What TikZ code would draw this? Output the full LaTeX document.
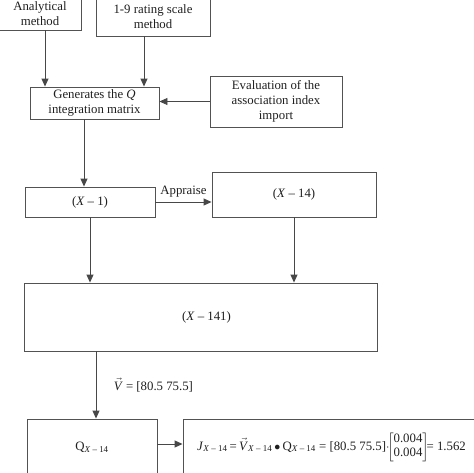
\documentclass[tikz,border=0pt]{standalone}
\usepackage{amsmath}
\usepackage{fontspec}
\setmainfont{Liberation Serif}
\usetikzlibrary{arrows.meta,calc}
\newcommand{\xsub}[1]{\ensuremath{_{\text{\textit{X} – #1}}}}
\begin{document}
\begin{tikzpicture}[x=1pt,y=-1pt,
  every node/.style={font=\fontsize{12.8}{15}\selectfont, text=black!88},
  box/.style={draw=black!68, line width=0.9pt, inner sep=0pt, align=center},
  arr/.style={draw=black!72, line width=0.9pt, -{Triangle[length=8pt,width=7pt]}}]
\useasboundingbox (0,0) rectangle (474,472);
\node[box, minimum width=82pt, minimum height=32pt] (ana) at (40,14) {Analytical\\method};
\node[box, minimum width=114pt, minimum height=38pt] (rat) at (153,17) {1-9 rating scale\\method};
\node[box, minimum width=129pt, minimum height=32pt] (gen) at (94.5,103) {Generates the \textit{Q}\\integration matrix};
\node[box, minimum width=132pt, minimum height=51pt] (eva) at (276,101.5) {Evaluation of the\\association index\\import};
\node[box, minimum width=130pt, minimum height=30pt] (x1) at (90,202) {(\textit{X} – 1)};
\node[box, minimum width=164pt, minimum height=45pt] (x14) at (294,194.5) {(\textit{X} – 14)};
\node[box, minimum width=353pt, minimum height=68pt] (x141) at (200.5,317) {\hspace*{12pt}(\textit{X} – 141)};
\node[box, minimum width=130pt, minimum height=56pt] (q) at (92,447) {Q\xsub{14}};
\node[box, minimum width=297pt, minimum height=56pt] (j) at (331.5,447) {\textit{J}\xsub{14}\,=\,$\vec{\text{\textit{V}}}$\xsub{14}\,$\bullet$\,Q\xsub{14} = [80.5 75.5]$\cdot$\!$\left[\renewcommand{\arraystretch}{0.92}\begin{tabular}{@{}c@{}}0.004\\0.004\end{tabular}\right]$\!= 1.562};
\coordinate (c1) at (45,0);
\coordinate (c2) at (144,0);
\coordinate (c3) at (84,0);
\coordinate (c4) at (96,0);
\coordinate (c5) at (0,444);
\draw[arr] (ana.south -| c1) -- (gen.north -| c1);
\draw[arr] (rat.south -| c2) -- (gen.north -| c2);
\draw[arr] (eva.west) -- (gen.east |- eva.west);
\draw[arr] (gen.south -| c3) -- (x1.north -| c3);
\draw[arr] (x1.east) -- node[above=1pt] (app) {Appraise} (x14.west |- x1.east);
\draw[arr] (x1.south) -- (x141.north -| x1.south);
\draw[arr] (x14.south) -- (x141.north -| x14.south);
\draw[arr] (x141.south -| c4) -- node[right=14pt] (vl) {$\vec{\text{\textit{V}}}$ = [80.5 75.5]} (q.north -| c4);
\draw[arr] (q.east |- c5) -- (j.west |- c5);
\end{tikzpicture}
\end{document}
